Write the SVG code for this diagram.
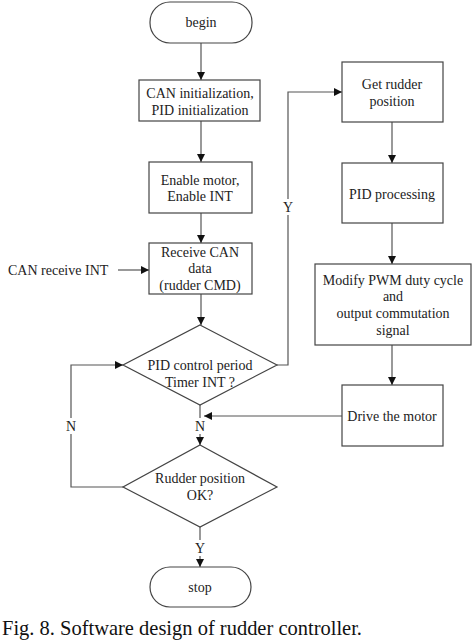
<svg xmlns="http://www.w3.org/2000/svg" width="474" height="640" viewBox="0 0 474 640">
<style>
  .box { fill: #fff; stroke: #444; stroke-width: 1.2; }
  .t { font-family: "Liberation Serif", "Times New Roman", serif; font-size: 14px; fill: #222; text-anchor: middle; }
  .tl { font-family: "Liberation Serif", "Times New Roman", serif; font-size: 14px; fill: #222; }
  .c { fill: none; stroke: #555; stroke-width: 1.2; }
  .cap { font-family: "Liberation Serif", "Times New Roman", serif; font-size: 22px; fill: #111; }
</style>
<defs>
  <marker id="ah" viewBox="0 0 10 10" refX="10" refY="5" markerWidth="8" markerHeight="8" markerUnits="userSpaceOnUse" orient="auto">
    <path d="M0,0 L10,5 L0,10 z" fill="#111"/>
  </marker>
</defs>
<rect width="474" height="640" fill="#fff"/>

<g id="connectors">
  <line class="c" x1="201" y1="43" x2="201" y2="80" marker-end="url(#ah)"/>
  <line class="c" x1="201" y1="121" x2="201" y2="162" marker-end="url(#ah)"/>
  <line class="c" x1="201" y1="213" x2="201" y2="243" marker-end="url(#ah)"/>
  <line class="c" x1="118" y1="270" x2="149" y2="270" marker-end="url(#ah)"/>
  <line class="c" x1="201" y1="294" x2="201" y2="325" marker-end="url(#ah)"/>
  <line class="c" x1="200" y1="405" x2="200" y2="445" marker-end="url(#ah)"/>
  <line class="c" x1="342" y1="416" x2="204" y2="416" marker-end="url(#ah)"/>
  <polyline class="c" points="123,487 71,487 71,365 123,365" marker-end="url(#ah)"/>
  <line class="c" x1="200" y1="527" x2="200" y2="567" marker-end="url(#ah)"/>
  <polyline class="c" points="277,365 288,365 288,92 342,92" marker-end="url(#ah)"/>
  <line class="c" x1="392" y1="122" x2="392" y2="163" marker-end="url(#ah)"/>
  <line class="c" x1="392" y1="223" x2="392" y2="264" marker-end="url(#ah)"/>
  <line class="c" x1="392" y1="345" x2="392" y2="385" marker-end="url(#ah)"/>
  <rect x="193" y="418" width="14" height="16" fill="#fff"/>
  <text class="t" x="200" y="431">N</text>
  <rect x="64" y="418" width="14" height="16" fill="#fff"/>
  <text class="t" x="71" y="431">N</text>
  <rect x="193" y="540" width="14" height="16" fill="#fff"/>
  <text class="t" x="200" y="553">Y</text>
  <rect x="281" y="199" width="14" height="16" fill="#fff"/>
  <text class="t" x="288" y="212">Y</text>
</g>

<g id="begin">
  <rect class="box" x="150" y="2" width="102" height="41" rx="20"/>
  <text class="t" x="201" y="27">begin</text>
</g>
<g id="init">
  <rect class="box" x="139" y="80" width="121" height="41"/>
  <text class="t" x="200" y="98">CAN initialization,</text>
  <text class="t" x="200" y="115">PID initialization</text>
</g>
<g id="enable">
  <rect class="box" x="149" y="162" width="103" height="51"/>
  <text class="t" x="200" y="185">Enable motor,</text>
  <text class="t" x="200" y="201">Enable INT</text>
</g>
<g id="canint">
  <text class="tl" x="8" y="275">CAN receive INT</text>
</g>
<g id="receive">
  <rect class="box" x="149" y="243" width="103" height="51"/>
  <text class="t" x="200" y="257">Receive CAN</text>
  <text class="t" x="200" y="273">data</text>
  <text class="t" x="200" y="290">(rudder CMD)</text>
</g>
<g id="timer">
  <polygon class="box" points="200,325 277,365 200,405 123,365"/>
  <text class="t" x="200" y="370">PID control period</text>
  <text class="t" x="200" y="387">Timer INT ?</text>
</g>
<g id="rudderok">
  <polygon class="box" points="200,445 277,487 200,527 123,487"/>
  <text class="t" x="200" y="483">Rudder position</text>
  <text class="t" x="200" y="500">OK?</text>
</g>
<g id="stop">
  <rect class="box" x="150" y="567" width="101" height="40" rx="20"/>
  <text class="t" x="200" y="592">stop</text>
</g>
<g id="getpos">
  <rect class="box" x="342" y="62" width="101" height="60"/>
  <text class="t" x="392" y="89">Get rudder</text>
  <text class="t" x="392" y="106">position</text>
</g>
<g id="pid">
  <rect class="box" x="342" y="163" width="101" height="60"/>
  <text class="t" x="392" y="199">PID processing</text>
</g>
<g id="pwm">
  <rect class="box" x="315" y="264" width="156" height="81"/>
  <text class="t" x="393" y="285">Modify PWM duty cycle</text>
  <text class="t" x="393" y="301">and</text>
  <text class="t" x="393" y="318">output commutation</text>
  <text class="t" x="393" y="335">signal</text>
</g>
<g id="drive">
  <rect class="box" x="342" y="385" width="101" height="61"/>
  <text class="t" x="392" y="421">Drive the motor</text>
</g>
<text class="cap" x="2" y="635" textLength="360" lengthAdjust="spacingAndGlyphs">Fig. 8. Software design of rudder controller.</text>
</svg>
